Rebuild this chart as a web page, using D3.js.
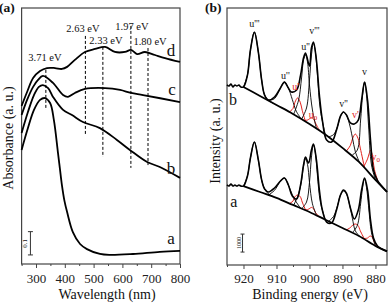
<!DOCTYPE html>
<html>
<head>
<meta charset="utf-8">
<script src="https://cdn.jsdelivr.net/npm/d3@7"></script>
<style>
body { margin: 0; background: #fff; }
svg { display: block; }
text { font-family: "Liberation Serif", "Times New Roman", serif; fill: #111; }
</style>
</head>
<body>
<svg id="chart" width="388" height="304"></svg>
<script>
// ---------- panel (a): UV-vis, [wavelength nm, absorbance] ----------
const uvA = [[250,0.49],[272,0.584],[293,0.662],[314,0.705],[331,0.713],[349,0.692],[362,0.619],[376,0.481],[383,0.41],[390,0.339],[399,0.27],[408,0.223],[428,0.137],[453,0.086],[477,0.064],[522,0.043],[557,0.039],[637,0.043],[730,0.052],[800,0.056]];
const uvB = [[250,0.563],[272,0.653],[293,0.726],[310,0.761],[324,0.769],[342,0.756],[359,0.718],[394,0.662],[425,0.64],[463,0.61],[522,0.584],[581,0.533],[626,0.49],[686,0.438],[730,0.417],[800,0.37]];
const uvC = [[250,0.64],[269,0.705],[290,0.761],[307,0.791],[324,0.808],[359,0.778],[394,0.726],[411,0.718],[435,0.735],[470,0.752],[540,0.756],[592,0.748],[630,0.735],[672,0.726],[800,0.696]];
const uvD = [[250,0.679],[269,0.739],[290,0.799],[314,0.829],[338,0.842],[366,0.842],[390,0.838],[408,0.847],[435,0.877],[470,0.911],[505,0.924],[540,0.933],[574,0.911],[609,0.911],[630,0.92],[651,0.902],[678,0.911],[713,0.898],[748,0.885],[800,0.868]];
const nmMajor = [300, 400, 500, 600, 700, 800];
const nmMinor = [250, 350, 450, 550, 650, 750];

// band-gap marks (eV) and the absorbance span of each dashed line
const evMarks = [3.71, 2.63, 2.33, 1.97, 1.80];
const evTop = [0.834, 0.98, 0.933, 1.023, 0.928];
const evBottom = [0.662, 0.554, 0.46, 0.413, 0.425];
const evLabelNm = [331, 463, 543, 633, 696];
const evLabelA = [0.872, 0.997, 0.945, 1.006, 0.941];
const uvLabels = [["a", 769, 0.086], ["b", 769, 0.387], ["c", 772, 0.726], ["d", 769, 0.894]];

// ---------- panel (b): Ce 3d XPS, [binding energy eV, counts] ----------
const envB = [[925,10010],[924.4,9950],[923.8,10060],[923.2,9900],[922.6,10010],[922,9950],[921.4,10010],[920.8,9900],[920,9900],[918.8,10560],[917.9,11950],[916.7,12950],[915.5,11840],[914.5,10290],[913.6,9450],[912.4,9170],[910.6,9340],[908.8,9840],[907.6,10170],[906.4,9840],[905.5,9620],[903.9,9730],[902.7,10560],[901.8,11510],[901.2,11790],[900.0,11060],[899.4,12070],[898.8,12400],[897.9,11400],[897.0,9450],[896.1,8060],[894.8,6950],[893.3,6840],[891.8,7510],[890.6,8280],[889.7,8510],[888.8,8340],[887.6,7900],[886.4,7840],[885.2,8060],[884.2,9170],[883.3,10170],[882.4,9170],[881.5,6950],[880.6,5280],[879.4,4700],[878,4370],[876.5,4060]];
const bgB = [[920,9900],[915,9400],[910,8900],[905,8400],[900,7840],[895,7230],[890,6510],[885,5730],[880,4730],[876.5,4060]];
const fitB = [
  [[920,9900],[918.8,10560],[917.9,11950],[916.7,12950],[915.5,11840],[914.5,10290],[913.6,9450],[912.4,9150],[911,9000]],
  [[912.4,9140],[910.6,9250],[909.7,9500],[908.8,9840],[907.6,10170],[906.4,9840],[905.2,9200],[904,8550],[902.7,8180]],
  [[904.8,8380],[903.3,9170],[902.4,10400],[901.8,11400],[901.2,11680],[900.6,11290],[900,10010],[899.1,8620],[897.9,7590]],
  [[902.4,8110],[900.9,8730],[900,10290],[899.4,11680],[898.8,12340],[898.2,11840],[897.6,10560],[896.7,8620],[895.2,7250]],
  [[894.2,7120],[892.7,7250],[891.5,7700],[890.6,8280],[889.7,8510],[888.8,8340],[887.9,7850],[887,7100],[886.1,6300],[884.8,5690]],
  [[887,6120],[885.5,6390],[884.5,8060],[883.9,9450],[883.3,10170],[882.7,9450],[882.1,7780],[881.2,5560],[880,4730]]
];
const fitRedB = [
  [[906.1,8510],[905,8700],[904.4,9050],[903.6,9290],[902.8,9050],[902.2,8600],[901.2,7970]],
  [[901.8,8040],[900.6,8060],[899.9,8140],[899.4,8170],[898.8,8120],[898.2,7900],[897,7480]],
  [[888.8,6340],[887.6,6650],[886.9,7050],[886.1,7280],[885.3,7050],[884.6,6500],[883.3,5390]],
  [[883.6,5450],[882.4,5900],[881.9,6200],[881.5,6390],[881,6150],[880.3,5300],[879.1,4570]]
];

const envA = [[925,4450],[924.4,4390],[923.8,4500],[923.2,4390],[922.6,4450],[922,4390],[921.4,4450],[920.8,4390],[920,4390],[918.8,4950],[917.9,5950],[916.7,6840],[915.5,5840],[914.5,4730],[913.6,4230],[912.4,4060],[910.6,4280],[908.8,4670],[907.6,4840],[906.4,4450],[905.2,3840],[903.9,3670],[902.7,4450],[901.8,5560],[901.2,6000],[900.3,5670],[899.4,6390],[898.8,6730],[897.9,5840],[897,4170],[896.1,3060],[894.8,2390],[893.3,2340],[891.8,3060],[890.6,3890],[889.7,4170],[888.8,4000],[887.6,3170],[886.4,2560],[885.2,3060],[884.2,4170],[883.3,4840],[882.4,4170],[881.5,2500],[880.6,1500],[879.4,1060],[878,890],[876.5,760]];
const bgA = [[920,4390],[915,4060],[910,3730],[905,3340],[900,2950],[895,2500],[890,2060],[885,1610],[880,1060],[876.5,760]];
const fitA = [
  [[920,4390],[918.8,4950],[917.9,5950],[916.7,6840],[915.5,5840],[914.5,4730],[913.6,4230],[912.4,3950],[911,3800]],
  [[912.4,3890],[910.6,4150],[909.7,4400],[908.8,4670],[907.6,4840],[906.4,4450],[905.2,3900],[904,3500],[902.7,3160]],
  [[904.8,3320],[903.3,3950],[902.4,4700],[901.8,5500],[901.2,5900],[900.6,5600],[900,4600],[899.1,3400],[897.9,2790]],
  [[902.4,3130],[900.9,3500],[900,4600],[899.4,6000],[898.8,6700],[898.2,6200],[897.6,5000],[896.7,3500],[895.2,2520]],
  [[894.2,2430],[892.7,2700],[891.5,3300],[890.6,3890],[889.7,4110],[888.8,3950],[887.9,3400],[887,2600],[886.1,1900],[884.8,1590]],
  [[887,1790],[885.5,2200],[884.5,3400],[883.9,4300],[883.3,4800],[882.7,4300],[882.1,3300],[881.2,1800],[880,1060]]
];
const fitRedA = [
  [[906.1,3420],[905,3550],[904.4,3800],[903.6,3890],[902.8,3800],[902.2,3500],[901.2,3060]],
  [[901.8,3090],[900.6,3080],[899.9,3150],[899.4,3200],[898.8,3140],[898.2,2920],[897,2680]],
  [[888.8,1950],[887.6,2080],[886.9,2220],[886.1,2280],[885.3,2200],[884.6,1900],[883.3,1430]],
  [[883.6,1470],[882.4,1500],[881.9,1580],[881.5,1610],[881,1550],[880.3,1250],[879.1,980]]
];
const evMajor = [920, 910, 900, 890, 880];
const evMinor = [925, 915, 905, 895, 885];

// peak names: [text, eV, counts, subscript]
const peakBlack = [["u'''", 916.7, 13230], ["u''", 907.3, 10340], ["u''", 901.2, 11950], ["v'''", 898.5, 12840], ["v''", 889.7, 8780], ["v", 883.3, 10560]];
const peakRed = [["u'", 904.2, 9730], ["u", 898.9, 8170, "0"], ["v'", 886.1, 8170], ["v", 879.9, 5840, "0"]];
const xpsLabels = [["b", 923.2, 8900], ["a", 922.9, 3220]];

const red = "#e3211c";
const svg = d3.select("#chart");

// ===== panel (a) =====
const xA = d3.scaleLinear().domain([250, 800]).range([21.6, 180]);
const yA = d3.scaleLinear().domain([0, 1.1]).range([264, 8]);
const gA = svg.append("g");

gA.append("rect")
    .attr("x", xA(250)).attr("y", yA(1.1))
    .attr("width", xA(800) - xA(250)).attr("height", yA(0) - yA(1.1))
    .attr("fill", "none").attr("stroke", "#444").attr("stroke-width", 1.2);

const axA = gA.append("g").attr("transform", `translate(0,${yA(0)})`)
    .call(d3.axisBottom(xA).tickValues(nmMajor).tickSize(4).tickPadding(6).tickFormat(d3.format("d")));
gA.append("g").attr("transform", `translate(0,${yA(0)})`)
    .call(d3.axisBottom(xA).tickValues(nmMinor).tickSize(2).tickFormat(""));

const lineA = d3.line().x(d => xA(d[0])).y(d => yA(d[1])).curve(d3.curveCatmullRom.alpha(0.5));
[uvA, uvB, uvC, uvD].forEach(s => {
  gA.append("path").datum(s).attr("d", lineA)
    .attr("fill", "none").attr("stroke", "#000").attr("stroke-width", 1.8);
});

evMarks.forEach((e, i) => {
  gA.append("line")
    .attr("x1", xA(1240 / e)).attr("x2", xA(1240 / e))
    .attr("y1", yA(evTop[i])).attr("y2", yA(evBottom[i]))
    .attr("stroke", "#000").attr("stroke-width", 1).attr("stroke-dasharray", "3,2");
  gA.append("text").attr("x", xA(evLabelNm[i])).attr("y", yA(evLabelA[i]))
    .attr("text-anchor", "middle").attr("font-size", 10.5).text(e.toFixed(2) + " eV");
});

uvLabels.forEach(l => {
  gA.append("text").attr("x", xA(l[1])).attr("y", yA(l[2]))
    .attr("text-anchor", "middle").attr("font-size", 17).text(l[0]);
});

// 0.1 scale bar
gA.append("path")
    .attr("d", `M${xA(272)},${yA(0.039)}h5M${xA(272) + 2.5},${yA(0.039)}V${yA(0.139)}M${xA(272)},${yA(0.139)}h5`)
    .attr("fill", "none").attr("stroke", "#333").attr("stroke-width", 1);
gA.append("text").attr("transform", `translate(${xA(272) - 0.5},${yA(0.089)}) rotate(-90)`)
    .attr("text-anchor", "middle").attr("font-size", 7).text("0.1");

gA.append("text").attr("x", 107).attr("y", 299).attr("text-anchor", "middle")
    .attr("font-size", 14).text("Wavelength (nm)");
gA.append("text").attr("transform", "translate(13,138) rotate(-90)")
    .attr("text-anchor", "middle").attr("font-size", 14).text("Absorbance (a. u.)");
gA.append("text").attr("x", -1).attr("y", 12).attr("font-size", 13.5)
    .attr("font-weight", "bold").text("(a)");

// ===== panel (b) =====
const xB = d3.scaleLinear().domain([925, 876.5]).range([227, 387]);
const yB = d3.scaleLinear().domain([0, 14290]).range([265, 8]);
const gB = svg.append("g");

gB.append("rect")
    .attr("x", xB(925)).attr("y", yB(14290))
    .attr("width", xB(876.5) - xB(925)).attr("height", yB(0) - yB(14290))
    .attr("fill", "none").attr("stroke", "#444").attr("stroke-width", 1.2);

const axB = gB.append("g").attr("transform", `translate(0,${yB(0)})`)
    .call(d3.axisBottom(xB).tickValues(evMajor).tickSize(4).tickPadding(5).tickFormat(d3.format("d")));
gB.append("g").attr("transform", `translate(0,${yB(0)})`)
    .call(d3.axisBottom(xB).tickValues(evMinor).tickSize(2).tickFormat(""));

const lineB = d3.line().x(d => xB(d[0])).y(d => yB(d[1])).curve(d3.curveCatmullRom.alpha(0.5));

[[bgB, envB, fitB, fitRedB], [bgA, envA, fitA, fitRedA]].forEach(([bg, env, fit, fitRed]) => {
  fitRed.forEach(c => gB.append("path").datum(c).attr("d", lineB)
    .attr("fill", "none").attr("stroke", red).attr("stroke-width", 1));
  fit.forEach(c => gB.append("path").datum(c).attr("d", lineB)
    .attr("fill", "none").attr("stroke", "#000").attr("stroke-width", 0.9));
  gB.append("path").datum(bg).attr("d", lineB)
    .attr("fill", "none").attr("stroke", "#000").attr("stroke-width", 1.8);
  gB.append("path").datum(env).attr("d", lineB)
    .attr("fill", "none").attr("stroke", "#000").attr("stroke-width", 1.6);
});

peakBlack.forEach(p => {
  gB.append("text").attr("x", xB(p[1])).attr("y", yB(p[2]))
    .attr("text-anchor", "middle").attr("font-size", 10).text(p[0]);
});
peakRed.forEach(p => {
  const t = gB.append("text").attr("x", xB(p[1])).attr("y", yB(p[2]))
    .attr("text-anchor", "middle").attr("font-size", 10).style("fill", red).text(p[0]);
  if (p[3]) t.append("tspan").attr("font-size", 7).attr("dy", 2).text(p[3]);
});
xpsLabels.forEach(l => {
  gB.append("text").attr("x", xB(l[1])).attr("y", yB(l[2]))
    .attr("text-anchor", "middle").attr("font-size", 16).text(l[0]);
});

// 1000 counts scale bar
gB.append("path")
    .attr("d", `M${xB(920.9)},${yB(720)}h4M${xB(920.9) + 2},${yB(720)}V${yB(1720)}M${xB(920.9)},${yB(1720)}h4`)
    .attr("fill", "none").attr("stroke", "#333").attr("stroke-width", 1);
gB.append("text").attr("transform", `translate(${xB(920.9) + 0.5},${yB(1220)}) rotate(-90)`)
    .attr("text-anchor", "middle").attr("font-size", 6).text("1000");

gB.append("text").attr("x", 310).attr("y", 299).attr("text-anchor", "middle")
    .attr("font-size", 14).text("Binding energy (eV)");
gB.append("text").attr("transform", "translate(219.5,141) rotate(-90)")
    .attr("text-anchor", "middle").attr("font-size", 14).text("Intensity (a. u.)");
gB.append("text").attr("x", 205).attr("y", 12).attr("font-size", 13.5)
    .attr("font-weight", "bold").text("(b)");

// axis styling
svg.selectAll(".domain").remove();
svg.selectAll(".tick line").attr("stroke", "#444");
svg.selectAll(".tick text").attr("font-size", 13).style("fill", "#222")
    .attr("font-family", "Liberation Serif, serif");
</script>
</body>
</html>
